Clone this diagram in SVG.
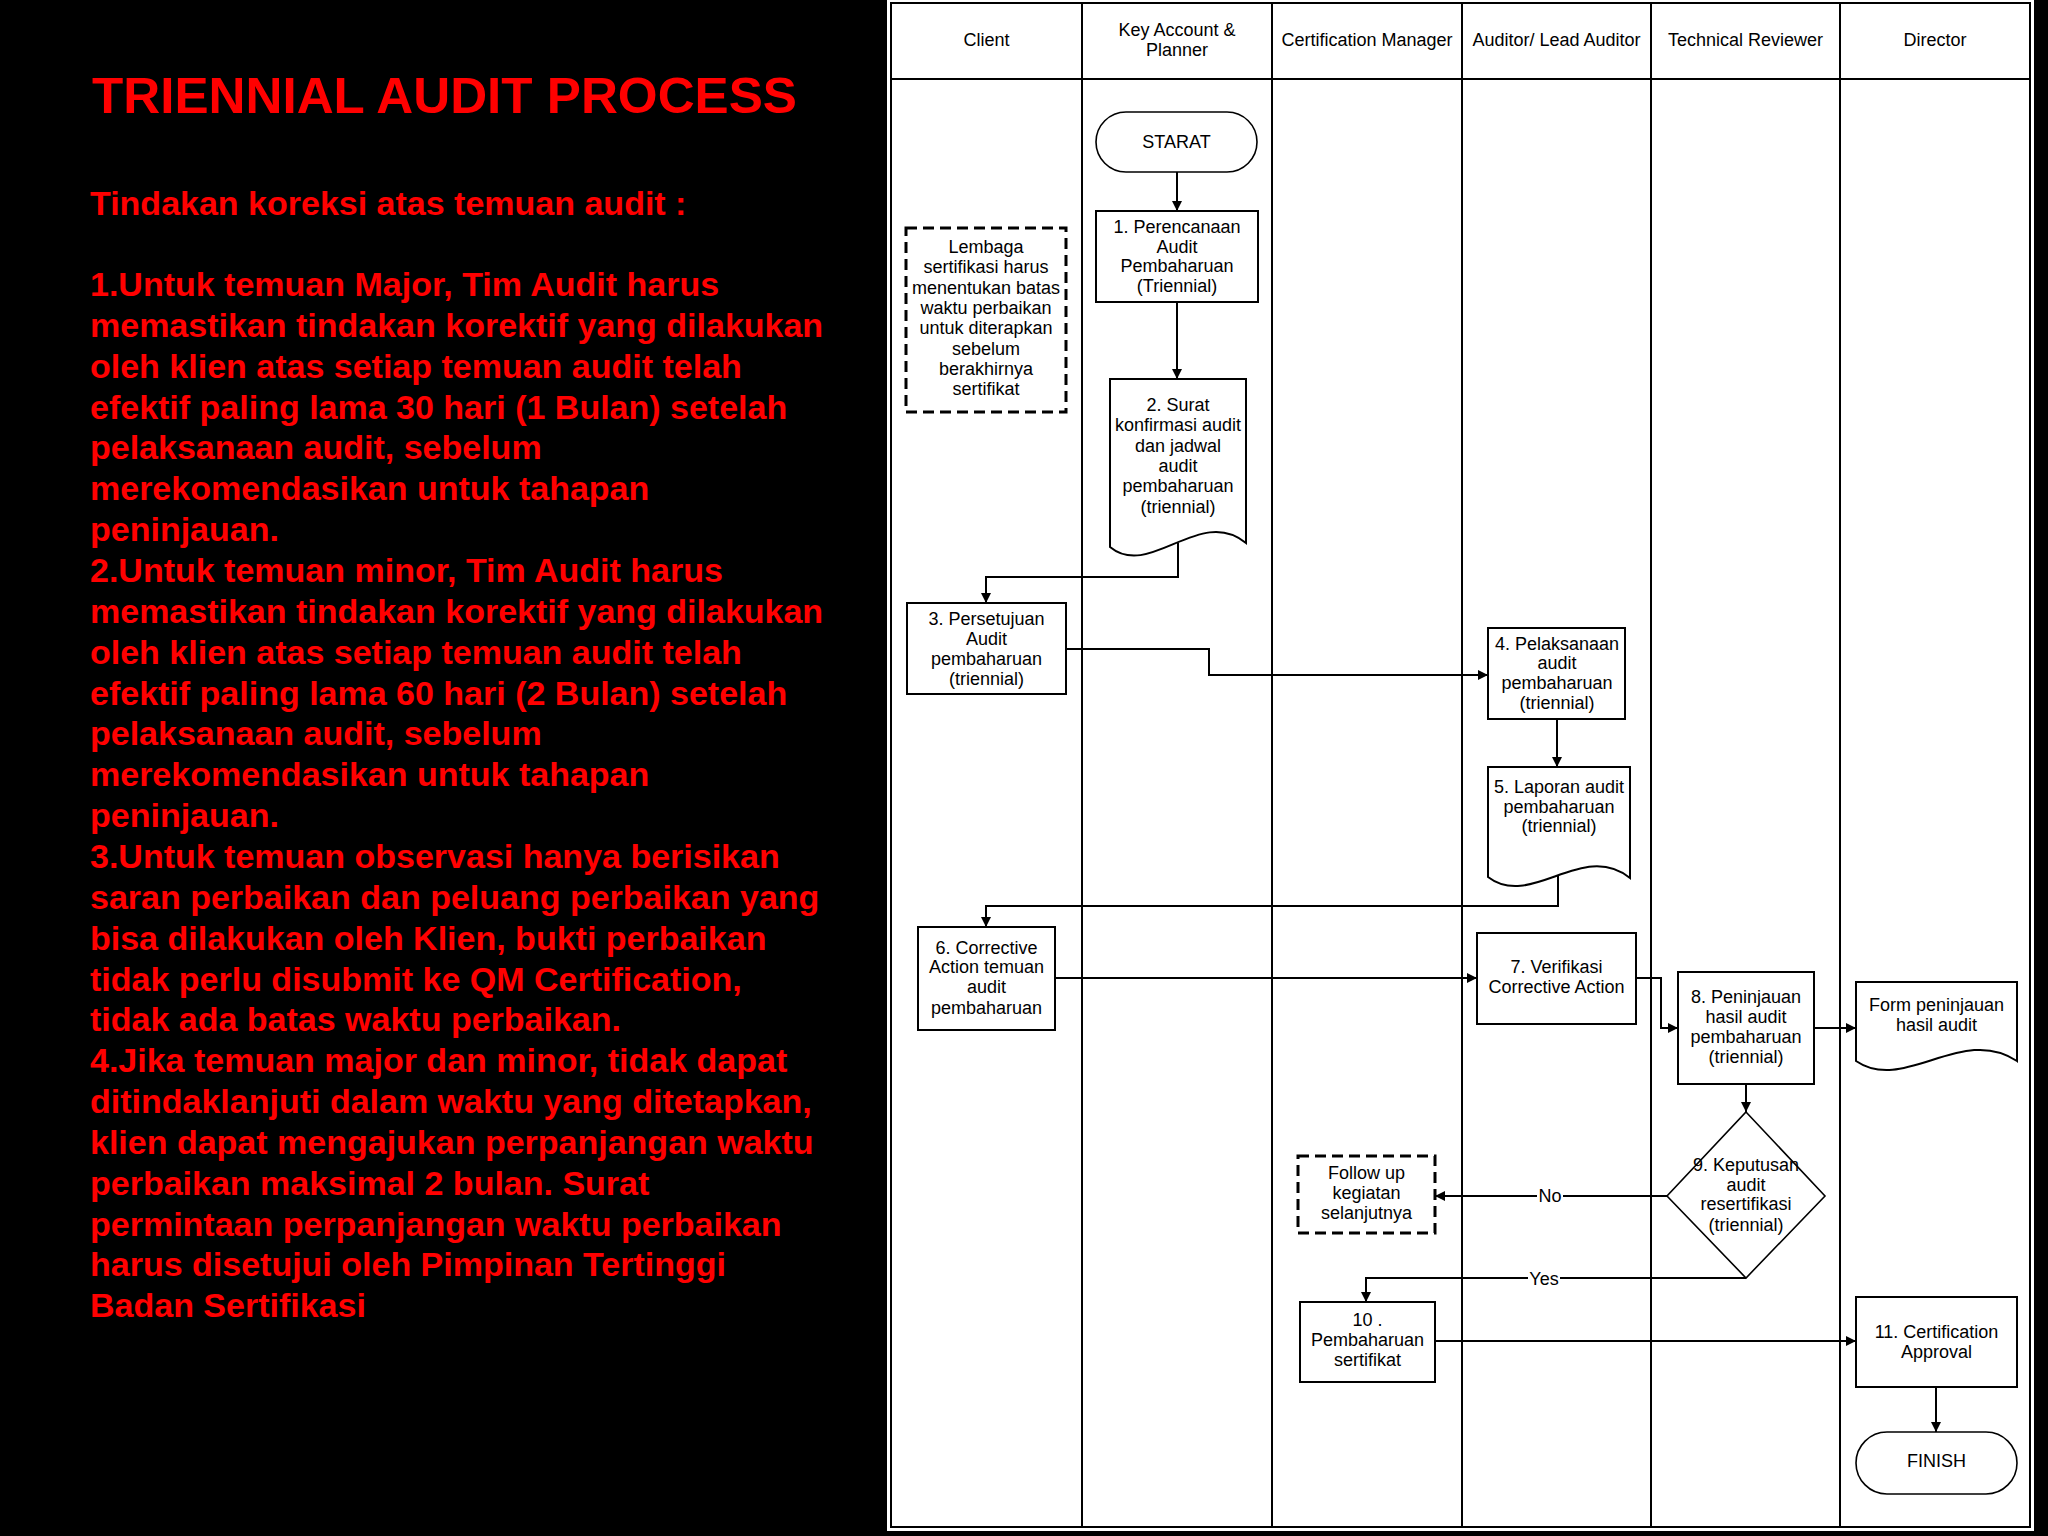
<svg xmlns="http://www.w3.org/2000/svg" width="2048" height="1536" viewBox="0 0 2048 1536">
<style>
  .body text { font-family: "Liberation Sans", Arial, sans-serif; font-weight: bold; font-size: 34px; fill: #ff0000; }
  .title { font-family: "Liberation Sans", Arial, sans-serif; font-weight: bold; font-size: 50px; fill: #ff0000; }
  .lane { stroke: #000; stroke-width: 2; fill: none; }
  .hdr { font-family: "Liberation Sans", Arial, sans-serif; font-size: 18px; fill: #000; text-anchor: middle; }
  .shape { fill: #fff; stroke: #000; stroke-width: 2; }
  .term { fill: #fff; stroke: #000; stroke-width: 1.6; }
  .dash { fill: #fff; stroke: #000; stroke-width: 3; stroke-dasharray: 11 6; }
  .t { font-family: "Liberation Sans", Arial, sans-serif; font-size: 18px; fill: #000; text-anchor: middle; }
  .conn path { fill: none; stroke: #000; stroke-width: 2; marker-end: url(#ah); }
  .lbl { font-family: "Liberation Sans", Arial, sans-serif; font-size: 18px; fill: #000; text-anchor: middle; }
</style>
<defs>
  <marker id="ah" viewBox="0 0 10 10" refX="10" refY="5" markerWidth="10" markerHeight="10" markerUnits="userSpaceOnUse" orient="auto">
    <path d="M0,0 L10,5 L0,10 Z" fill="#000"/>
  </marker>
</defs>

<rect x="0" y="0" width="2048" height="1536" fill="#000"/>

<!-- Left text panel -->
<text class="title" x="92" y="113" textLength="705" lengthAdjust="spacingAndGlyphs">TRIENNIAL AUDIT PROCESS</text>
<g class="body">
  <text x="90" y="215">Tindakan koreksi atas temuan audit :</text>
  <text x="90" y="296">1.Untuk temuan Major, Tim Audit harus</text>
  <text x="90" y="336.9">memastikan tindakan korektif yang dilakukan</text>
  <text x="90" y="377.7">oleh klien atas setiap temuan audit telah</text>
  <text x="90" y="418.6">efektif paling lama 30 hari (1 Bulan) setelah</text>
  <text x="90" y="459.4">pelaksanaan audit, sebelum</text>
  <text x="90" y="500.3">merekomendasikan untuk tahapan</text>
  <text x="90" y="541.1">peninjauan.</text>
  <text x="90" y="582">2.Untuk temuan minor, Tim Audit harus</text>
  <text x="90" y="622.8">memastikan tindakan korektif yang dilakukan</text>
  <text x="90" y="663.7">oleh klien atas setiap temuan audit telah</text>
  <text x="90" y="704.5">efektif paling lama 60 hari (2 Bulan) setelah</text>
  <text x="90" y="745.4">pelaksanaan audit, sebelum</text>
  <text x="90" y="786.2">merekomendasikan untuk tahapan</text>
  <text x="90" y="827.1">peninjauan.</text>
  <text x="90" y="867.9">3.Untuk temuan observasi hanya berisikan</text>
  <text x="90" y="908.8">saran perbaikan dan peluang perbaikan yang</text>
  <text x="90" y="949.6">bisa dilakukan oleh Klien, bukti perbaikan</text>
  <text x="90" y="990.5">tidak perlu disubmit ke QM Certification,</text>
  <text x="90" y="1031.3">tidak ada batas waktu perbaikan.</text>
  <text x="90" y="1072.2">4.Jika temuan major dan minor, tidak dapat</text>
  <text x="90" y="1113">ditindaklanjuti dalam waktu yang ditetapkan,</text>
  <text x="90" y="1153.9">klien dapat mengajukan perpanjangan waktu</text>
  <text x="90" y="1194.7">perbaikan maksimal 2 bulan. Surat</text>
  <text x="90" y="1235.6">permintaan perpanjangan waktu perbaikan</text>
  <text x="90" y="1276.4">harus disetujui oleh Pimpinan Tertinggi</text>
  <text x="90" y="1317.3">Badan Sertifikasi</text>
</g>

<!-- Swimlane table -->
<g id="swimlanes">
  <rect x="887" y="0" width="1147" height="1531" fill="#fff"/>
  <rect class="lane" x="891" y="3" width="1139" height="1524"/>
  <line class="lane" x1="891" y1="79" x2="2030" y2="79"/>
  <line class="lane" x1="1082" y1="3" x2="1082" y2="1527"/>
  <line class="lane" x1="1272" y1="3" x2="1272" y2="1527"/>
  <line class="lane" x1="1462" y1="3" x2="1462" y2="1527"/>
  <line class="lane" x1="1651" y1="3" x2="1651" y2="1527"/>
  <line class="lane" x1="1840" y1="3" x2="1840" y2="1527"/>
  <text class="hdr" x="986.5" y="46">Client</text>
  <text class="hdr" x="1177" y="36">Key Account &amp;</text>
  <text class="hdr" x="1177" y="56">Planner</text>
  <text class="hdr" x="1367" y="46">Certification Manager</text>
  <text class="hdr" x="1556.5" y="46">Auditor/ Lead Auditor</text>
  <text class="hdr" x="1745.5" y="46">Technical Reviewer</text>
  <text class="hdr" x="1935" y="46">Director</text>
</g>

<!-- Connectors -->
<g id="connectors" class="conn">
  <path d="M1177,172 V211"/>
  <path d="M1177,302 V379"/>
  <path d="M1178,543 V577 H986 V603"/>
  <path d="M1066,649 H1209 V675 H1488"/>
  <path d="M1557,719 V767"/>
  <path d="M1558,875 V906 H986 V927"/>
  <path d="M1055,978 H1477"/>
  <path d="M1636,978 H1661 V1028 H1678"/>
  <path d="M1814,1028 H1856"/>
  <path d="M1746,1084 V1112"/>
  <path d="M1668,1196 H1435"/>
  <path d="M1746,1278 H1366 V1302"/>
  <path d="M1435,1341 H1856"/>
  <path d="M1936,1387 V1432"/>
  <rect x="1537" y="1186" width="26" height="20" fill="#fff"/>
  <text class="lbl" x="1550" y="1202">No</text>
  <rect x="1528" y="1269" width="32" height="20" fill="#fff"/>
  <text class="lbl" x="1544" y="1285">Yes</text>
</g>

<!-- Nodes -->
<g id="start">
  <rect class="term" x="1096" y="112" width="161" height="60" rx="30" ry="30"/>
  <text class="t" x="1176.5" y="148">STARAT</text>
</g>

<g id="note-lembaga">
  <rect class="dash" x="906" y="228" width="160" height="184"/>
  <text class="t" x="986" y="253">Lembaga</text>
  <text class="t" x="986" y="273.3">sertifikasi harus</text>
  <text class="t" x="986" y="293.6">menentukan batas</text>
  <text class="t" x="986" y="313.9">waktu perbaikan</text>
  <text class="t" x="986" y="334.2">untuk diterapkan</text>
  <text class="t" x="986" y="354.5">sebelum</text>
  <text class="t" x="986" y="374.8">berakhirnya</text>
  <text class="t" x="986" y="395.1">sertifikat</text>
</g>

<g id="step1">
  <rect class="shape" x="1096" y="211" width="162" height="91"/>
  <text class="t" x="1177" y="233">1. Perencanaan</text>
  <text class="t" x="1177" y="253">Audit</text>
  <text class="t" x="1177" y="272">Pembaharuan</text>
  <text class="t" x="1177" y="292">(Triennial)</text>
</g>

<g id="step2">
  <path class="shape" d="M1110,379 H1246 V543 C1200,505 1150,580 1110,547 Z"/>
  <text class="t" x="1178" y="411">2. Surat</text>
  <text class="t" x="1178" y="431.3">konfirmasi audit</text>
  <text class="t" x="1178" y="451.6">dan jadwal</text>
  <text class="t" x="1178" y="471.9">audit</text>
  <text class="t" x="1178" y="492.2">pembaharuan</text>
  <text class="t" x="1178" y="512.5">(triennial)</text>
</g>

<g id="step3">
  <rect class="shape" x="907" y="603" width="159" height="91"/>
  <text class="t" x="986.5" y="625">3.  Persetujuan</text>
  <text class="t" x="986.5" y="645">Audit</text>
  <text class="t" x="986.5" y="665">pembaharuan</text>
  <text class="t" x="986.5" y="685">(triennial)</text>
</g>

<g id="step4">
  <rect class="shape" x="1488" y="628" width="137" height="91"/>
  <text class="t" x="1557" y="650">4. Pelaksanaan</text>
  <text class="t" x="1557" y="669">audit</text>
  <text class="t" x="1557" y="689">pembaharuan</text>
  <text class="t" x="1557" y="709">(triennial)</text>
</g>

<g id="step5">
  <path class="shape" d="M1488,767 H1630 V878 C1582,840 1531,910 1488,877 Z"/>
  <text class="t" x="1559" y="793">5. Laporan audit</text>
  <text class="t" x="1559" y="813">pembaharuan</text>
  <text class="t" x="1559" y="832">(triennial)</text>
</g>

<g id="step6">
  <rect class="shape" x="918" y="927" width="137" height="103"/>
  <text class="t" x="986.5" y="954">6. Corrective</text>
  <text class="t" x="986.5" y="973">Action temuan</text>
  <text class="t" x="986.5" y="993">audit</text>
  <text class="t" x="986.5" y="1014">pembaharuan</text>
</g>

<g id="step7">
  <rect class="shape" x="1477" y="933" width="159" height="91"/>
  <text class="t" x="1556.5" y="973">7. Verifikasi</text>
  <text class="t" x="1556.5" y="993">Corrective Action</text>
</g>

<g id="step8">
  <rect class="shape" x="1678" y="972" width="136" height="112"/>
  <text class="t" x="1746" y="1003">8.  Peninjauan</text>
  <text class="t" x="1746" y="1023">hasil audit</text>
  <text class="t" x="1746" y="1043">pembaharuan</text>
  <text class="t" x="1746" y="1063">(triennial)</text>
</g>

<g id="form-peninjauan">
  <path class="shape" d="M1856,982 H2017 V1061 C1962,1024 1904,1094 1856,1061 Z"/>
  <text class="t" x="1936.5" y="1011">Form peninjauan</text>
  <text class="t" x="1936.5" y="1031">hasil audit</text>
</g>

<g id="decision9">
  <path class="term" d="M1746,1112 L1825,1196 L1746,1278 L1667,1196 Z"/>
  <text class="t" x="1746" y="1171">9. Keputusan</text>
  <text class="t" x="1746" y="1191">audit</text>
  <text class="t" x="1746" y="1210">resertifikasi</text>
  <text class="t" x="1746" y="1231">(triennial)</text>
</g>

<g id="follow-up">
  <rect class="dash" x="1298" y="1156" width="137" height="77"/>
  <text class="t" x="1366.5" y="1179">Follow up</text>
  <text class="t" x="1366.5" y="1199">kegiatan</text>
  <text class="t" x="1366.5" y="1219">selanjutnya</text>
</g>

<g id="step10">
  <rect class="shape" x="1300" y="1302" width="135" height="80"/>
  <text class="t" x="1367.5" y="1326">10 .</text>
  <text class="t" x="1367.5" y="1346">Pembaharuan</text>
  <text class="t" x="1367.5" y="1366">sertifikat</text>
</g>

<g id="step11">
  <rect class="shape" x="1856" y="1297" width="161" height="90"/>
  <text class="t" x="1936.5" y="1338">11. Certification</text>
  <text class="t" x="1936.5" y="1358">Approval</text>
</g>

<g id="finish">
  <rect class="term" x="1856" y="1432" width="161" height="62" rx="31" ry="31"/>
  <text class="t" x="1936.5" y="1467">FINISH</text>
</g>
</svg>
